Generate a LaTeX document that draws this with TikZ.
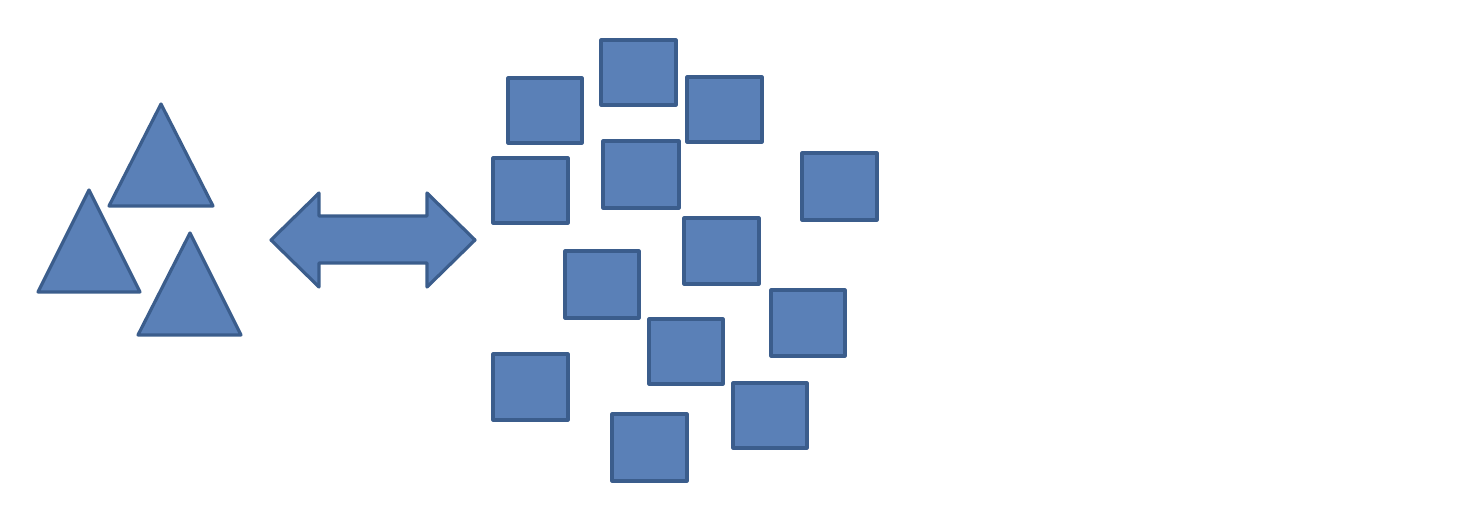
\documentclass[tikz,border=0pt]{standalone}
\definecolor{shapefill}{HTML}{5A80B7}
\definecolor{shapeline}{HTML}{3B5D8C}
\tikzset{
  shp/.style={fill=shapefill, draw=shapeline, line width=3.2pt, line join=round},
}
\begin{document}
\begin{tikzpicture}[x=1pt,y=-1pt]
\useasboundingbox (0,0) rectangle (1466,509);
% triangles
\draw[shp] (161,104) -- (213,206) -- (109,206) -- cycle;
\draw[shp] (89,190) -- (140,292) -- (38,292) -- cycle;
\draw[shp] (190,233) -- (241,335) -- (138,335) -- cycle;
% double arrow
\draw[shp] (271,240) -- (319,193) -- (319,216) -- (427,216) -- (427,193) -- (475,240)
  -- (427,287) -- (427,263) -- (319,263) -- (319,287) -- cycle;
% squares
\foreach \a/\b/\c/\d in {601/40/676/105, 508/78/582/143, 687/77/762/142,
  493/158/568/223, 603/141/679/208, 802/153/877/220, 684/218/759/284,
  565/251/639/318, 771/290/845/356, 649/319/723/384, 493/354/568/420,
  733/383/807/448, 612/414/687/481}
  \draw[shp] (\a,\b) rectangle (\c,\d);
\end{tikzpicture}
\end{document}
